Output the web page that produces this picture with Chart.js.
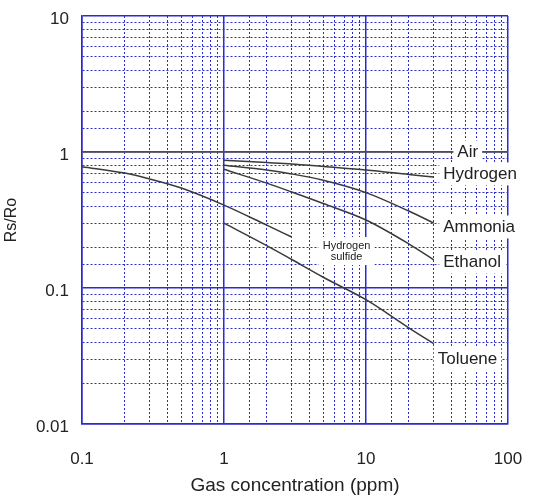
<!DOCTYPE html>
<html>
<head>
<meta charset="utf-8">
<script src="https://cdn.jsdelivr.net/npm/chart.js@4.4.0/dist/chart.umd.min.js"></script>
<style>
  html, body { margin: 0; padding: 0; background: #fff; }
  #wrap { width: 535px; height: 500px; }
</style>
</head>
<body>
<div id="wrap"><canvas id="sensorChart" width="535" height="500"></canvas></div>
<script>
// Gas concentration (ppm) sample points
const concAir = [0.1, 100];
const concHigh = [1, 2, 3, 5, 10, 20, 30];
const concLow = [0.1, 0.2, 0.3, 0.5, 1, 2, 3];

// Rs/Ro readings for each gas
const air = [1, 1];
const hydrogen = [0.87, 0.837, 0.817, 0.782, 0.738, 0.684, 0.655];
const ammonia = [0.80, 0.738, 0.69, 0.62, 0.503, 0.368, 0.30];
const ethanol = [0.746, 0.59, 0.508, 0.418, 0.316, 0.211, 0.161];
const toluene = [0.30, 0.205, 0.162, 0.12, 0.082, 0.051, 0.039];
const hydrogenSulfide = [0.78, 0.70, 0.633, 0.543, 0.407, 0.29, 0.237];

// Decade tick labels
const xTickLabels = ['0.1', '1', '10', '100'];
const yTickLabels = ['0.01', '0.1', '1', '10'];

// Curve names and where they sit (ppm, Rs/Ro)
const labelNames = ['Air', 'Hydrogen', 'Ammonia', 'Ethanol', 'Toluene', 'Hydrogen\nsulfide'];
const labelPpm = [44, 35, 35, 35, 32, 7.3];
const labelRatio = [1, 0.69, 0.281, 0.155, 0.030, 0.187];

const BLUE = '#2b2bd0';
const FONT = '"Liberation Sans", Arial, sans-serif';

const pairs = (xs, ys) => xs.map((x, i) => ({ x: x, y: ys[i] }));

function decadeIndex(v, min) {
    const e = Math.log10(v) - Math.log10(min);
    return Math.abs(e - Math.round(e)) < 1e-6 ? Math.round(e) : -1;
}

function gridScale(min, max, labels, pad, shift) {
    return {
        type: 'logarithmic',
        min: min,
        max: max,
        grid: {
            color: BLUE,
            lineWidth: ctx => (ctx.tick && decadeIndex(ctx.tick.value, min) >= 0) ? 1.5 : 1,
            drawTicks: false
        },
        border: {
            display: true,
            color: BLUE,
            width: 1.5,
            dash: ctx => (ctx.tick && decadeIndex(ctx.tick.value, min) < 0) ? [2, 2] : []
        },
        ticks: {
            autoSkip: false,
            maxRotation: 0,
            padding: pad,
            labelOffset: shift,
            color: '#222',
            font: { family: FONT, size: 17 },
            callback: function(value) {
                const i = decadeIndex(value, min);
                return i >= 0 ? labels[i] : '';
            }
        }
    };
}

// Text labels with white boxes behind them
const curveLabels = {
    id: 'curveLabels',
    afterDatasetsDraw(chart) {
        const { ctx, scales: { x, y } } = chart;
        ctx.save();
        labelNames.forEach((name, i) => {
            const px = x.getPixelForValue(labelPpm[i]);
            const py = y.getPixelForValue(labelRatio[i]);
            const lines = name.split('\n');
            const small = lines.length > 1;
            const size = small ? 11 : 17;
            const lh = small ? 11 : 17;
            ctx.font = size + 'px ' + FONT;
            const w = Math.max(...lines.map(l => ctx.measureText(l).width));
            const h = lh * lines.length;
            const left = small ? px - w / 2 : px;
            ctx.fillStyle = '#fff';
            ctx.fillRect(left - 4, py - h / 2 - 3, w + 8, h + 6);
            ctx.fillStyle = '#222';
            ctx.textBaseline = 'middle';
            ctx.textAlign = small ? 'center' : 'left';
            lines.forEach((l, k) => {
                ctx.fillText(l, small ? px : left, py - h / 2 + lh * (k + 0.5));
            });
        });
        ctx.restore();
    }
};

const lineStyle = {
    borderColor: '#3a3a3a',
    borderWidth: 1.5,
    pointRadius: 0,
    fill: false,
    cubicInterpolationMode: 'monotone'
};

new Chart(document.getElementById('sensorChart'), {
    type: 'line',
    data: {
        datasets: [
            { label: 'Air', data: pairs(concAir, air), ...lineStyle, borderColor: '#555' },
            { label: 'Hydrogen', data: pairs(concHigh, hydrogen), ...lineStyle },
            { label: 'Ammonia', data: pairs(concHigh, ammonia), ...lineStyle },
            { label: 'Ethanol', data: pairs(concHigh, ethanol), ...lineStyle },
            { label: 'Toluene', data: pairs(concHigh, toluene), ...lineStyle },
            { label: 'Hydrogen sulfide', data: pairs(concLow, hydrogenSulfide), ...lineStyle }
        ]
    },
    options: {
        responsive: false,
        animation: false,
        devicePixelRatio: 1,
        layout: { padding: { top: 16, right: 27, left: 0, bottom: 0 } },
        plugins: {
            legend: { display: false },
            tooltip: { enabled: false }
        },
        scales: {
            x: {
                ...gridScale(0.1, 100, xTickLabels, 25, 0),
                afterFit: scale => {
                    // fixed axis band; label overflow is covered by layout padding
                    scale.height = 76;
                    scale.paddingLeft = 0;
                    scale.paddingRight = 0;
                },
                title: {
                    display: true,
                    text: 'Gas concentration (ppm)',
                    color: '#222',
                    font: { family: FONT, size: 19 },
                    padding: { top: 0, bottom: 3 }
                }
            },
            y: {
                ...gridScale(0.01, 10, yTickLabels, 13, 3),
                afterFit: scale => {
                    scale.width = 82;
                    scale.paddingTop = 0;
                    scale.paddingBottom = 0;
                },
                title: {
                    display: true,
                    text: 'Rs/Ro',
                    color: '#222',
                    font: { family: FONT, size: 16 },
                    padding: { top: 2, bottom: 0 }
                }
            }
        }
    },
    plugins: [curveLabels]
});
</script>
</body>
</html>
